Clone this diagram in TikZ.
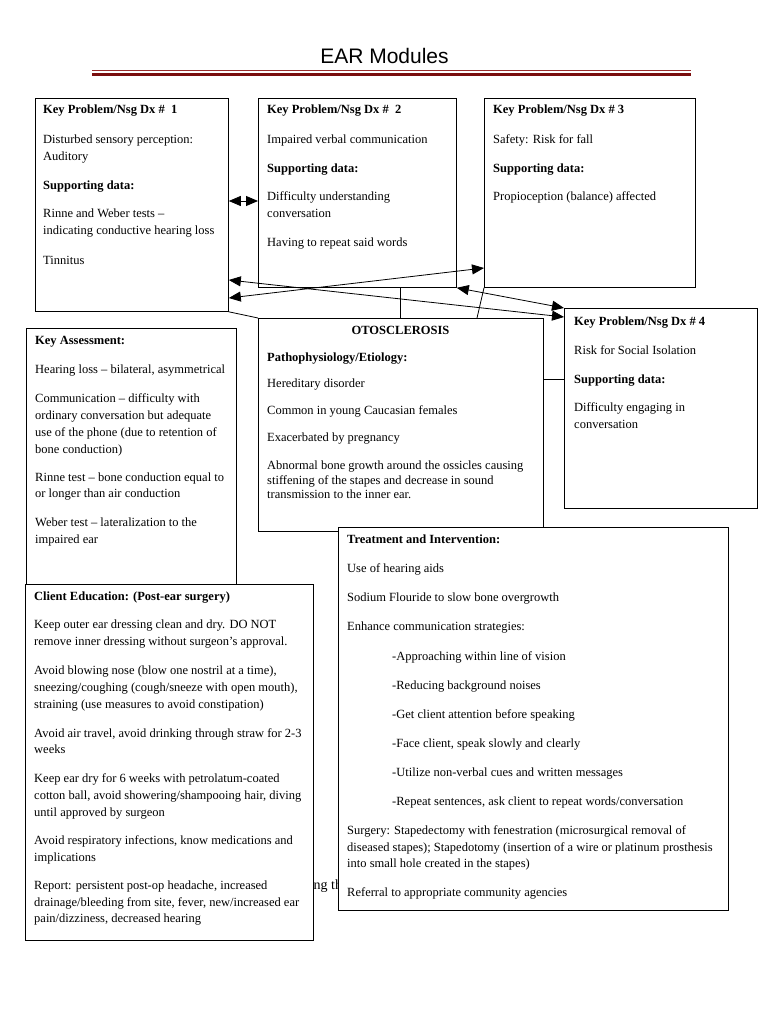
\documentclass[tikz,border=0pt]{standalone}
\usepackage{fontspec}
\setmainfont{Liberation Serif}
\newfontfamily\titlefont{Liberation Sans}
\usetikzlibrary{arrows.meta,calc}
\definecolor{ruleThin}{HTML}{9A2E2E}
\definecolor{ruleThick}{HTML}{7A0E0E}
\begin{document}
\begin{tikzpicture}[x=1pt,y=-1pt,
  box/.style={draw=black, line width=0.8pt, rectangle, anchor=north west, inner sep=0pt},
  wbox/.style={box, fill=white},
  txt/.style={anchor=north west, inner sep=0pt, align=left, font=\fontsize{12.5}{16.8}\selectfont},
  link/.style={line width=0.8pt},
  dbl/.style={link, {Triangle[length=12pt,width=10pt]}-{Triangle[length=12pt,width=10pt]}},
]
\useasboundingbox (0,0) rectangle (768,1024);

% title
\node[font=\titlefont\fontsize{21}{21}\selectfont, anchor=base, inner sep=0pt] (title) at (384.5,64) {EAR Modules};
\draw[line width=1pt, ruleThin] (92,70.5) -- (691,70.5);
\draw[line width=3pt, ruleThick] (92,74.5) -- (691,74.5);

% helper coordinates
\coordinate (y201) at (0,201);
\coordinate (y268) at (0,268);
\coordinate (y280) at (0,280);
\coordinate (y298) at (0,298);
\coordinate (y317) at (0,317);
\coordinate (y379) at (0,379);
\coordinate (x400) at (400,0);
\coordinate (x477) at (477,0);

% boxes
\node[box, minimum width=193pt, minimum height=213pt] (b1) at (35,98) {};
\node[box, minimum width=198pt, minimum height=189pt] (b2) at (258,98) {};
\node[box, minimum width=211pt, minimum height=189pt] (b3) at (484,98) {};
\node[box, minimum width=193pt, minimum height=200pt] (b4) at (564,308) {};
\node[box, minimum width=210pt, minimum height=270pt] (ka) at (26,328) {};
\node[box, minimum width=285pt, minimum height=213pt] (oto) at (258,318) {};

% hidden text behind boxes
\node[anchor=base west, inner sep=0pt, font=\fontsize{14}{16}\selectfont] (hid) at (313.5,889) {ng th};

\node[wbox, minimum width=390pt, minimum height=383pt] (tr) at (338,527) {};
\node[wbox, minimum width=288pt, minimum height=356pt] (ce) at (25,584) {};

% texts
\node[txt] (t1) at (43,101.7) {\strut\textbf{Key Problem/Nsg Dx \#\ \ 1}\\[13.2pt]
Disturbed sensory perception:\\
Auditory\\[12.2pt]
\textbf{Supporting data:}\\[11.2pt]
Rinne and Weber tests --\\
indicating conductive hearing loss\\[13pt]
Tinnitus};

\node[txt] (t2) at (267,101.7) {\strut\textbf{Key Problem/Nsg Dx \#\ \ 2}\\[13.2pt]
Impaired verbal communication\\[12.2pt]
\textbf{Supporting data:}\\[11.2pt]
Difficulty understanding\\
conversation\\[12.2pt]
Having to repeat said words};

\node[txt] (t3) at (493,101.7) {\strut\textbf{Key Problem/Nsg Dx \# 3}\\[13.2pt]
Safety: Risk for fall\\[12.2pt]
\textbf{Supporting data:}\\[11.2pt]
Propioception (balance) affected};

\node[txt] (t4) at (574,313.7) {\strut\textbf{Key Problem/Nsg Dx \# 4}\\[12.2pt]
Risk for Social Isolation\\[12.2pt]
\textbf{Supporting data:}\\[11.2pt]
Difficulty engaging in\\
conversation};

\node[txt] (tka) at (35,332.7) {\strut\textbf{Key Assessment:}\\[12.2pt]
Hearing loss -- bilateral, asymmetrical\\[12.2pt]
Communication -- difficulty with\\
ordinary conversation but adequate\\
use of the phone (due to retention of\\
bone conduction)\\[11.2pt]
Rinne test -- bone conduction equal to\\
or longer than air conduction\\[12.2pt]
Weber test -- lateralization to the\\
impaired ear};

\node[anchor=base, inner sep=0pt, font=\fontsize{12.5}{16.8}\selectfont] (toto) at (400.5,334) {\textbf{OTOSCLEROSIS}};
\node[txt] (toto2) at (267,349.7) {\strut\textbf{Pathophysiology/Etiology:}\\[9.2pt]
Hereditary disorder\\[10.2pt]
Common in young Caucasian females\\[10.2pt]
Exacerbated by pregnancy\\[11.2pt]
Abnormal bone growth around the ossicles causing\\[-2.3pt]
stiffening of the stapes and decrease in sound\\[-2.3pt]
transmission to the inner ear.};

\node[txt] (ttr) at (347,531.7) {\strut\textbf{Treatment and Intervention:}\\[12.2pt]
Use of hearing aids\\[12.2pt]
Sodium Flouride to slow bone overgrowth\\[12.2pt]
Enhance communication strategies:\\[13.2pt]
\hspace*{45pt}-Approaching within line of vision\\[12.2pt]
\hspace*{45pt}-Reducing background noises\\[12.2pt]
\hspace*{45pt}-Get client attention before speaking\\[12.2pt]
\hspace*{45pt}-Face client, speak slowly and clearly\\[12.2pt]
\hspace*{45pt}-Utilize non-verbal cues and written messages\\[12.2pt]
\hspace*{45pt}-Repeat sentences, ask client to repeat words/conversation\\[12.2pt]
Surgery: Stapedectomy with fenestration (microsurgical removal of\\[-0.3pt]
diseased stapes); Stapedotomy (insertion of a wire or platinum prosthesis\\[-0.3pt]
into small hole created in the stapes)\\[12.2pt]
Referral to appropriate community agencies};

\node[txt] (tce) at (34,588.7) {\strut\textbf{Client Education: (Post-ear surgery)}\\[11.2pt]
Keep outer ear dressing clean and dry. DO NOT\\
remove inner dressing without surgeon’s approval.\\[12.2pt]
Avoid blowing nose (blow one nostril at a time),\\
sneezing/coughing (cough/sneeze with open mouth),\\
straining (use measures to avoid constipation)\\[12.2pt]
Avoid air travel, avoid drinking through straw for 2-3\\
weeks\\[12.2pt]
Keep ear dry for 6 weeks with petrolatum-coated\\
cotton ball, avoid showering/shampooing hair, diving\\
until approved by surgeon\\[11.2pt]
Avoid respiratory infections, know medications and\\
implications\\[11.2pt]
Report: persistent post-op headache, increased\\
drainage/bleeding from site, fever, new/increased ear\\
pain/dizziness, decreased hearing};

% connectors
\draw[dbl] (b1.east |- y201) -- (b2.west |- y201);
\draw[dbl] (b1.east |- y298) -- (b3.west |- y268);
\draw[dbl] (b1.east |- y280) -- (b4.west |- y317);
\draw[dbl] (b2.south east) -- (b4.north west);
\draw[link] (b2.south -| x400) -- (oto.north -| x400);
\draw[link] (b3.south west) -- (oto.north -| x477);
\draw[link] (b1.south east) -- (oto.north west);
\draw[link] (oto.east |- y379) -- (b4.west |- y379);
\end{tikzpicture}
\end{document}
